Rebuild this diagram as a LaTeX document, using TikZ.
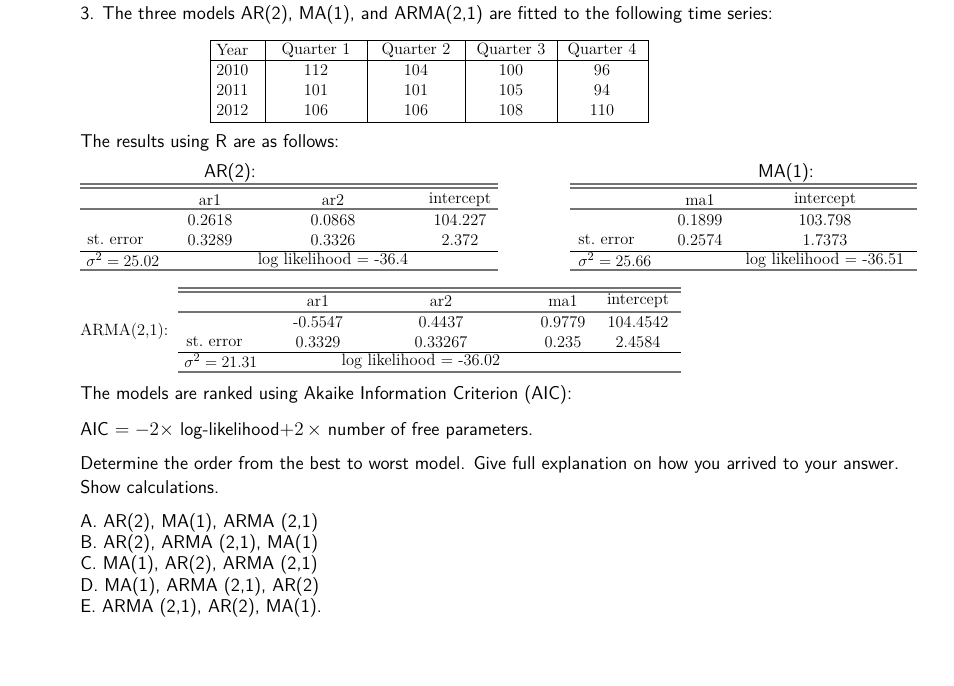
\documentclass[tikz,border=0pt]{standalone}
\begin{document}
\begin{tikzpicture}[x=0.75pt,y=-0.75pt,
  sf/.style={font=\sffamily\fontsize{13.9}{16}\selectfont,inner sep=0pt},
  tx/.style={font=\fontsize{12.3}{14}\selectfont,inner sep=0pt},
  gl/.style={draw=black!55,line width=0.8pt},
  bl/.style={draw=black,line width=0.6pt}]
\useasboundingbox (0,0) rectangle (954,686);
\fill[white] (0,0) rectangle (954,686);
\node[sf,anchor=west] (t1) at (80,15) {3. The three models AR(2), MA(1), and ARMA(2,1) are fitted to the following time series:};
% data table
\draw[bl] (210,40) rectangle (648,122);
\foreach \x in {265,367,465,557} \draw[bl] (\x,40) -- (\x,122);
\draw[bl] (210,60) -- (648,60);
\node[tx,anchor=west] (y0) at (216,50) {Year};
\node[tx] at (316,50) {Quarter 1};
\node[tx] at (416,50) {Quarter 2};
\node[tx] at (511,50) {Quarter 3};
\node[tx] at (602,50) {Quarter 4};
\foreach \yr/\a/\b/\c/\d [count=\i] in {2010/112/104/100/96,2011/101/101/105/94,2012/106/106/108/110}{
  \node[tx,anchor=west] at (216,50+20*\i) {\yr};
  \node[tx] at (316,50+20*\i) {\a};
  \node[tx] at (416,50+20*\i) {\b};
  \node[tx] at (511,50+20*\i) {\c};
  \node[tx] at (602,50+20*\i) {\d};
}
\node[sf,anchor=west] (t2) at (80,143) {The results using R are as follows:};
% AR(2)
\node[sf] (ar) at (230,173) {AR(2):};
\draw[gl] (80,184) -- (498,184); \draw[gl] (80,188) -- (498,188);
\draw[gl] (80,209) -- (498,209);
\draw[bl] (80,251) -- (498,251);
\draw[gl] (80,270) -- (498,270);
\node[tx] at (210,200) {ar1}; \node[tx] at (333,200) {ar2}; \node[tx] at (460,200) {intercept};
\node[tx] at (210,220) {0.2618}; \node[tx] at (333,220) {0.0868}; \node[tx] at (460,220) {104.227};
\node[tx,anchor=west] at (87,240) {st.\ error};
\node[tx] at (210,240) {0.3289}; \node[tx] at (333,240) {0.3326}; \node[tx] at (460,240) {2.372};
\node[tx,anchor=west] at (86,260) {$\sigma^2=25.02$};
\node[tx] at (333,260) {log likelihood $=$ -36.4};
% MA(1)
\node[sf] (ma) at (786,173) {MA(1):};
\draw[gl] (570,184) -- (917,184); \draw[gl] (570,188) -- (917,188);
\draw[gl] (570,209) -- (917,209);
\draw[bl] (570,251) -- (917,251);
\draw[gl] (570,270) -- (917,270);
\node[tx] at (700,200) {ma1}; \node[tx] at (825,200) {intercept};
\node[tx] at (700,220) {0.1899}; \node[tx] at (825,220) {103.798};
\node[tx,anchor=west] at (578,240) {st.\ error};
\node[tx] at (700,240) {0.2574}; \node[tx] at (825,240) {1.7373};
\node[tx,anchor=west] at (578,260) {$\sigma^2=25.66$};
\node[tx] at (825,260) {log likelihood $=$ -36.51};
% ARMA
\node[tx,anchor=west] (arma) at (80,331) {ARMA(2,1):};
\draw[gl] (178,288) -- (681,288); \draw[gl] (178,292) -- (681,292);
\draw[gl] (178,312) -- (681,312);
\draw[bl] (178,352) -- (681,352);
\draw[gl] (178,372) -- (681,372);
\node[tx] at (318,301) {ar1}; \node[tx] at (441,301) {ar2}; \node[tx] at (563,301) {ma1}; \node[tx] at (638,301) {intercept};
\node[tx] at (318,322) {-0.5547}; \node[tx] at (441,322) {0.4437}; \node[tx] at (563,322) {0.9779}; \node[tx] at (638,322) {104.4542};
\node[tx,anchor=west] at (186,342) {st.\ error};
\node[tx] at (318,342) {0.3329}; \node[tx] at (441,342) {0.33267}; \node[tx] at (563,342) {0.235}; \node[tx] at (638,342) {2.4584};
\node[tx,anchor=west] at (184,361) {$\sigma^2=21.31$};
\node[tx] at (421,361) {log likelihood $=$ -36.02};
% text
\node[sf,anchor=west] at (80,395) {The models are ranked using Akaike Information Criterion (AIC):};
\node[sf,anchor=west] at (80,431) {AIC $=-2\times$ log-likelihood$+2\,\times$ number of free parameters.};
\node[sf,anchor=west] at (80,465) {Determine the order from the best to worst model. Give full explanation on how you arrived to your answer.};
\node[sf,anchor=west] at (80,487) {Show calculations.};
\node[sf,anchor=west] at (80,523) {A. AR(2), MA(1), ARMA (2,1)};
\node[sf,anchor=west] at (80,544) {B. AR(2), ARMA (2,1), MA(1)};
\node[sf,anchor=west] at (80,565) {C. MA(1), AR(2), ARMA (2,1)};
\node[sf,anchor=west] at (80,587) {D. MA(1), ARMA (2,1), AR(2)};
\node[sf,anchor=west] at (80,608) {E. ARMA (2,1), AR(2), MA(1).};
\end{tikzpicture}
\end{document}
